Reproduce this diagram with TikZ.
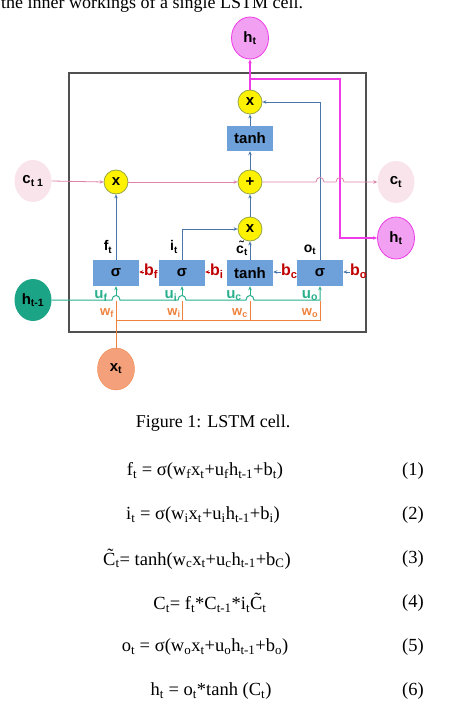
\documentclass[tikz,border=0pt]{standalone}
\usepackage{fontspec}
\setmainfont{Liberation Serif}
\newfontfamily\arial{Liberation Sans}
\usetikzlibrary{shapes.geometric,arrows.meta}
\definecolor{gateblue}{RGB}{110,160,218}
\definecolor{lineblue}{RGB}{72,118,170}
\definecolor{violetfill}{RGB}{242,160,242}
\definecolor{magline}{RGB}{238,60,230}
\definecolor{pinkfill}{RGB}{249,228,236}
\definecolor{pinkline}{RGB}{222,130,170}
\definecolor{tealfill}{RGB}{28,164,134}
\definecolor{tealline}{RGB}{40,175,140}
\definecolor{salmonfill}{RGB}{244,160,122}
\definecolor{orangeline}{RGB}{238,130,60}
\definecolor{yelbord}{RGB}{150,165,70}
\definecolor{bred}{RGB}{192,0,0}
\definecolor{boxgray}{RGB}{80,80,80}
\newcommand{\sbs}[1]{\textsubscript{#1}}
\begin{document}
\begin{tikzpicture}[x=1pt,y=-1pt,
  dfont/.style={font=\arial\bfseries\fontsize{15}{16}\selectfont},
  ell/.style={ellipse, minimum width=37pt, minimum height=42pt, inner sep=0pt, dfont},
  yel/.style={circle, fill=yellow, draw=yelbord, line width=0.8pt, minimum size=24pt, inner sep=0pt, dfont},
  gate/.style={rectangle, fill=gateblue, minimum width=46pt, minimum height=26pt, inner sep=0pt, dfont},
  lbl/.style={inner sep=0pt, font=\arial\bfseries\fontsize{14}{16}\selectfont},
  blbl/.style={inner sep=0pt, text=bred, anchor=west, font=\arial\bfseries\fontsize{16}{16}\selectfont},
  ulbl/.style={inner sep=0pt, text=tealline, font=\arial\bfseries\fontsize{15}{16}\selectfont},
  wlbl/.style={inner sep=0pt, text=orangeline, font=\arial\bfseries\fontsize{13}{14}\selectfont},
  arr/.style={-{Stealth[length=4pt,width=3.5pt]}},
  bl/.style={draw=lineblue, line width=0.9pt},
  mg/.style={draw=magline, line width=1.2pt},
  pk/.style={draw=pinkline, line width=0.8pt},
  tl/.style={draw=tealline, line width=1pt},
  orl/.style={draw=orangeline, line width=1pt},
  eq/.style={inner sep=0pt, font=\fontsize{18.5}{20}\selectfont},
]
\useasboundingbox (0,0) rectangle (474,708);

% intro line (cut at top)
\node[anchor=base west, inner sep=0pt, font=\fontsize{18}{20}\selectfont] (intro) at (1,9) {the inner workings of a single LSTM cell.};

% cell frame
\node[draw=boxgray, line width=1.2pt, minimum width=297pt, minimum height=259pt, inner sep=0pt] (cell) at (217.5,202.5) {};

% ellipses
\node[ell, fill=violetfill, draw=magline, line width=0.8pt] (htop) at (250,38) {h\sbs{t}};
\node[ell, fill=pinkfill] (cprev) at (33,181) {c\sbs{t 1}};
\node[ell, fill=pinkfill] (cnext) at (396,182) {c\sbs{t}};
\node[ell, fill=violetfill, draw=magline, line width=0.8pt] (hright) at (396,238) {h\sbs{t}};
\node[ell, fill=tealfill] (hprev) at (33,300) {h\sbs{t-1}};
\node[ell, fill=salmonfill, draw=orangeline!70!salmonfill] (xt) at (116,369) {x\sbs{t}};

% operators
\node[yel] (mtop) at (250,102) {x};
\node[gate, minimum height=25pt] (tanhbox) at (250,138.5) {tanh};
\node[yel] (plus) at (250,182) {+};
\node[yel] (mlow) at (250,229) {x};
\node[yel] (mleft) at (116,182) {x};

% gates
\node[gate] (gf) at (116,273) {σ};
\node[gate] (gi) at (182,273) {σ};
\node[gate] (gc) at (250,273) {tanh};
\node[gate] (go) at (320,273) {σ};

% gate output labels
\node[lbl] (lf) at (108,247) {f\sbs{t}};
\node[lbl] (li) at (174,247) {i\sbs{t}};
\node[lbl] (lc) at (242,248.5) {\~{c}\sbs{t}};
\node[lbl] (lo) at (310,250) {o\sbs{t}};

% blue connectors
\draw[bl,arr] (gf.north) -- (mleft.south);
\draw[bl,arr] (gi.north) |- (mlow.west);
\draw[bl,arr] (gc.north) -- (mlow.south);
\draw[bl,arr] (go.north) |- (mtop.east);
\draw[bl,arr] (mlow.north) -- (plus.south);
\draw[bl,arr] (plus.north) -- (tanhbox.south);
\draw[bl,arr] (tanhbox.north) -- (mtop.south);

% magenta output
\coordinate (mj) at (250,79);
\coordinate (mc) at (340,238);
\draw[mg,arr] (mtop.north) -- (htop.south);
\draw[mg,arr] (mj) -| (mc) -- (hright.west);

% cell state line
\draw[pk,arr] (cprev.east) -- (mleft.west);
\draw[pk,arr] (mleft.east) -- (plus.west);
\draw[pk,arr] (plus.east) -- (316,182) .. controls (316,176) and (324,176) .. (324,182)
   -- (336,182) .. controls (336,176) and (344,176) .. (344,182) -- (cnext.west);

% bias labels
\node[blbl] (bf) at (144,271) {b\sbs{f}};
\node[blbl] (bi) at (210,271) {b\sbs{i}};
\node[blbl] (bc) at (281,271) {b\sbs{c}};
\node[blbl] (bo) at (350,271) {b\sbs{o}};
\draw[draw=bred, line width=0.9pt, arr] (bf.west) ++(0,1) -- (gf.east |- 0,272);
\draw[draw=bred, line width=0.9pt, arr] (bi.west) ++(0,1) -- (gi.east |- 0,272);
\draw[bl, arr] (bc.west) ++(0,1) -- (gc.east |- 0,272);
\draw[bl, arr] (bo.west) ++(0,1) -- (go.east |- 0,272);

% h_{t-1} line with hops
\draw[tl,arr] (hprev.east) -- (112,300) .. controls (112,294) and (120,294) .. (120,300)
   -- (178,300) .. controls (178,294) and (186,294) .. (186,300)
   -- (246,300) .. controls (246,294) and (254,294) .. (254,300)
   -- (320,300) -- (go.south);
\draw[tl,arr] (116,295.5) -- (gf.south);
\draw[tl,arr] (182,295.5) -- (gi.south);
\draw[tl,arr] (250,295.5) -- (gc.south);

% x_t lines
\draw[orl] (xt.north) -- (116,301);
\draw[orl] (116,320) -- (320,320) -- (320,301);
\draw[orl] (182,320) -- (182,301);
\draw[orl] (250,320) -- (250,301);

% u and w labels
\node[ulbl] (uf) at (101,296) {u\sbs{f}};
\node[ulbl] (ui) at (171,296) {u\sbs{i}};
\node[ulbl] (uc) at (234,296) {u\sbs{c}};
\node[ulbl] (uo) at (310,296) {u\sbs{o}};
\node[wlbl] (wf) at (107,313) {w\sbs{f}};
\node[wlbl] (wi) at (174,313) {w\sbs{i}};
\node[wlbl] (wc) at (240,313) {w\sbs{c}};
\node[wlbl] (wo) at (310,313) {w\sbs{o}};

% caption and equations
\node[eq, font=\fontsize{18}{20}\selectfont] (caption) at (213,423) {Figure 1: LSTM cell.};
\node[eq] (e1) at (205,471) {f\sbs{t} = σ(w\sbs{f}x\sbs{t}+u\sbs{f}h\sbs{t-1}+b\sbs{t})};
\node[eq] (e2) at (203,515) {i\sbs{t} = σ(w\sbs{i}x\sbs{t}+u\sbs{i}h\sbs{t-1}+b\sbs{i})};
\node[eq] (e3) at (197,559) {\~{C}\sbs{t}= tanh(w\sbs{c}x\sbs{t}+u\sbs{c}h\sbs{t-1}+b\sbs{C})};
\node[eq] (e4) at (210,603) {C\sbs{t}= f\sbs{t}*C\sbs{t-1}*i\sbs{t}\~{C}\sbs{t}};
\node[eq] (e5) at (205,647) {o\sbs{t} = σ(w\sbs{o}x\sbs{t}+u\sbs{o}h\sbs{t-1}+b\sbs{o})};
\node[eq] (e6) at (211,691) {h\sbs{t} = o\sbs{t}*tanh (C\sbs{t})};
\node[eq, anchor=east] (n1) at (424,471) {(1)};
\node[eq, anchor=east] (n2) at (424,515) {(2)};
\node[eq, anchor=east] (n3) at (424,559) {(3)};
\node[eq, anchor=east] (n4) at (424,603) {(4)};
\node[eq, anchor=east] (n5) at (424,647) {(5)};
\node[eq, anchor=east] (n6) at (424,691) {(6)};
\end{tikzpicture}
\end{document}
